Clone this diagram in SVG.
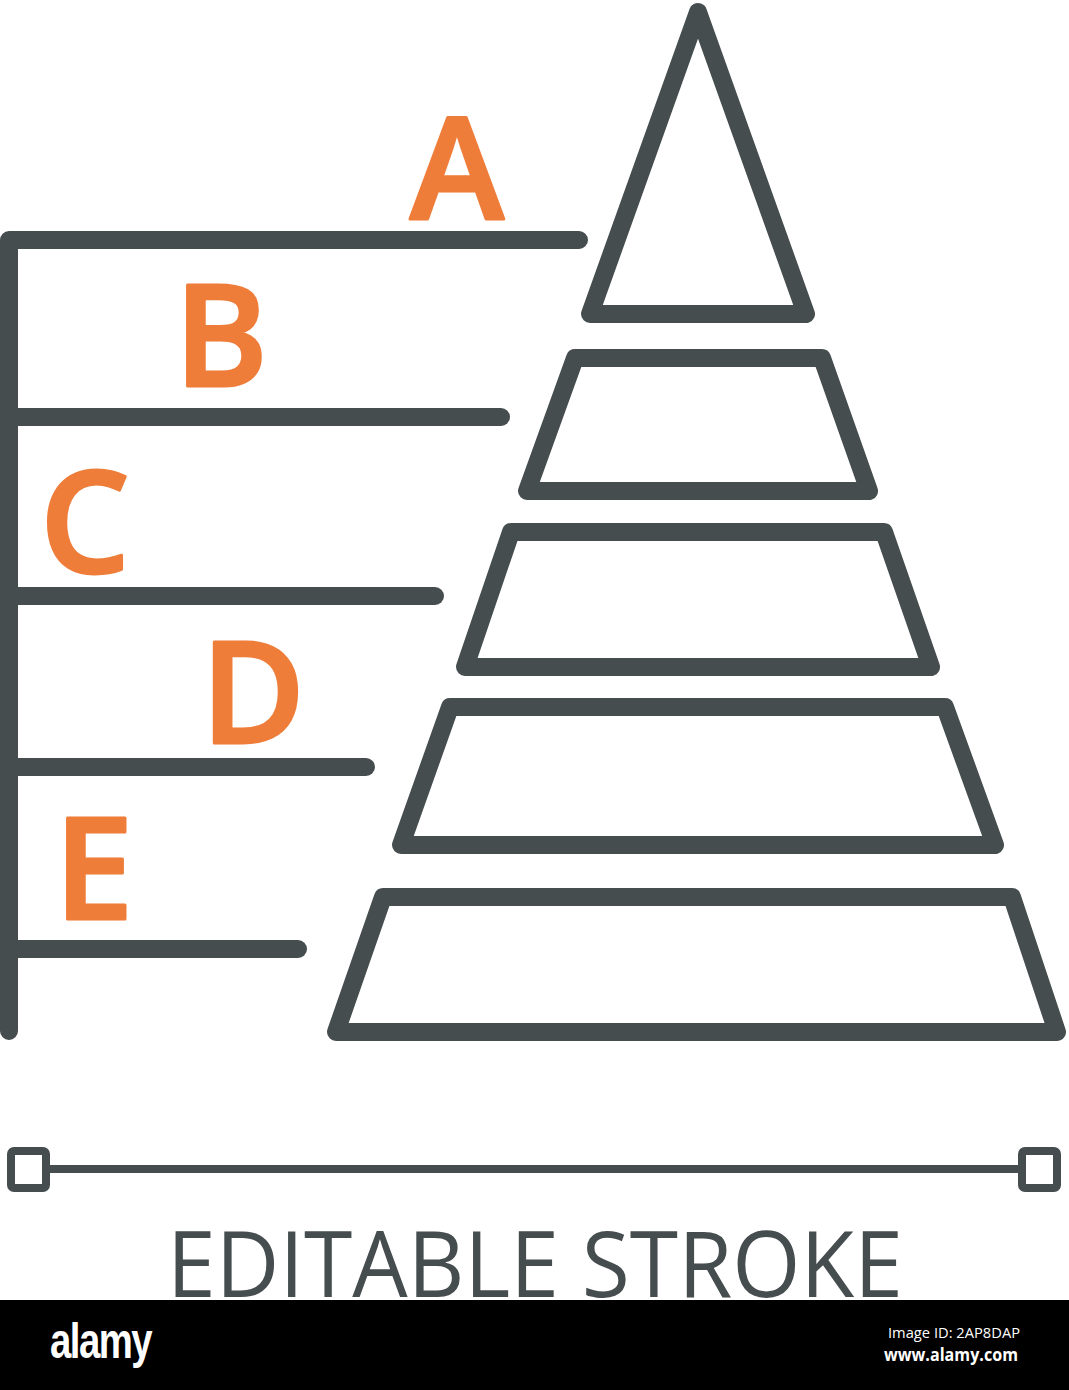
<svg xmlns="http://www.w3.org/2000/svg" width="1069" height="1390" viewBox="0 0 1069 1390">
<style>
.ln{fill:none;stroke:#464d4f;stroke-width:18;stroke-linecap:round;stroke-linejoin:round}
.tier{fill:none;stroke:#464d4f;stroke-width:18;stroke-linejoin:round}
.lbl{font-family:"Open Sans","Liberation Sans",sans-serif;font-weight:600;font-size:142px;fill:#ef7d3a;stroke:#ef7d3a;stroke-width:3;stroke-linejoin:round;text-anchor:middle}
.hdl{fill:#fff;stroke:#464d4f;stroke-width:8;stroke-linejoin:round}
</style>
<rect width="1069" height="1390" fill="#fff"/>
<g id="connectors">
<path class="ln" d="M9,1031 V240 H579"/>
<path class="ln" d="M9,417 H501"/>
<path class="ln" d="M9,596 H435"/>
<path class="ln" d="M9,767 H366"/>
<path class="ln" d="M9,949 H298"/>
</g>
<g id="tier-a"><polygon class="tier" points="698,12 806,314 590,314"/></g>
<g id="tier-b"><polygon class="tier" points="575,358 822,358 869,491 527,491"/></g>
<g id="tier-c"><polygon class="tier" points="511,532 884,532 931,667 465,667"/></g>
<g id="tier-d"><polygon class="tier" points="450,707 945,707 995,845 401,845"/></g>
<g id="tier-e"><polygon class="tier" points="383,897 1012,897 1057,1032 336,1032"/></g>
<g id="label-a"><text class="lbl" x="457" y="219">A</text></g>
<g id="label-b"><text class="lbl" x="221" y="386">B</text></g>
<g id="label-c"><text class="lbl" x="85" y="573">C</text></g>
<g id="label-d"><text class="lbl" x="253" y="743">D</text></g>
<g id="label-e"><text class="lbl" x="94" y="919">E</text></g>
<g id="editable-handle">
<line x1="48" y1="1169" x2="1020" y2="1169" stroke="#464d4f" stroke-width="8"/>
<rect class="hdl" x="11" y="1151" width="35" height="37" rx="3"/>
<rect class="hdl" x="1022" y="1151" width="35" height="37" rx="3"/>
</g>
<g id="caption"><text x="167" y="1297" font-family="'Open Sans','Liberation Sans',sans-serif" font-size="92" fill="#464d4f" textLength="736" lengthAdjust="spacingAndGlyphs">EDITABLE STROKE</text></g>
<g id="watermark-bar">
<rect x="0" y="1300" width="1069" height="90" fill="#000"/>
<text x="50" y="1358" font-family="'Liberation Sans',sans-serif" font-weight="700" font-size="50" fill="#fff" textLength="101" lengthAdjust="spacingAndGlyphs" letter-spacing="-2">alamy</text>
<text x="888" y="1338" font-family="'Open Sans','Liberation Sans',sans-serif" font-size="15" fill="#fff" textLength="132" lengthAdjust="spacingAndGlyphs">Image ID: 2AP8DAP</text>
<text x="884" y="1361" font-family="'Open Sans','Liberation Sans',sans-serif" font-weight="700" font-size="17" fill="#fff" textLength="134" lengthAdjust="spacingAndGlyphs">www.alamy.com</text>
</g>
</svg>
